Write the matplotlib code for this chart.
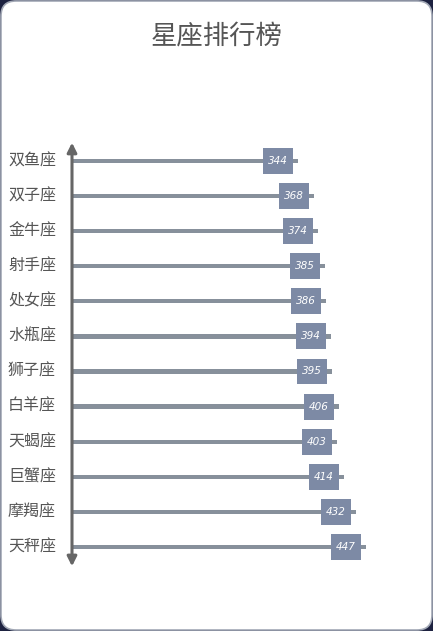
import matplotlib
matplotlib.use("Agg")
import matplotlib.pyplot as plt
from matplotlib.patches import FancyBboxPatch

plt.rcParams["font.family"] = ["Noto Sans CJK SC", "DejaVu Sans"]

# data, top to bottom
SIGNS = ["双鱼座", "双子座", "金牛座", "射手座", "处女座", "水瓶座",
         "狮子座", "白羊座", "天蝎座", "巨蟹座", "摩羯座", "天秤座"]
VALUES = [344, 368, 374, 385, 386, 394, 395, 406, 403, 414, 432, 447]
TITLE = "星座排行榜"

LINE_COLOR = "#87909b"
BOX_COLOR = "#7d8aa5"
AXIS_COLOR = "#666666"
TEXT_COLOR = "#555555"

W, H = 433, 631
fig = plt.figure(figsize=(W / 100, H / 100), dpi=100)
fig.patch.set_facecolor("#1d2240")

# rounded white card with grey rim
card = FancyBboxPatch((0.01, 0.01), W / 100 - 0.02, H / 100 - 0.02,
                      boxstyle="round,pad=0,rounding_size=0.15",
                      transform=fig.dpi_scale_trans, facecolor="white",
                      edgecolor="#a3a9b6", linewidth=1.2, zorder=-10)
fig.patches.append(card)

fig.text(0.5, 1 - 36 / H, TITLE, ha="center", va="center",
         fontsize=19, color=TEXT_COLOR, fontweight="light")

# axes: left edge = value axis at x=72px, rows every ~35px
px_per_unit = 0.657
ax = fig.add_axes([72 / W, (H - 580) / H, 361 / W, 450 / H])
ax.set_zorder(5)
ax.set_xlim(0, 361 / px_per_unit)
ax.set_ylim(11.94, -0.88)
ax.axis("off")

ys = list(range(len(SIGNS)))
ax.barh(ys, VALUES, height=0.12, color=LINE_COLOR, zorder=2)

box_w = 30 / px_per_unit
box_off = 20 / px_per_unit
centers = [v - box_off for v in VALUES]
ax.barh(ys, [box_w] * len(ys), left=[c - box_w / 2 for c in centers],
        height=0.74, color=BOX_COLOR, zorder=3)
for y, c, v in zip(ys, centers, VALUES):
    ax.text(c, y, str(v), ha="center", va="center", color="white",
            fontsize=7.5, style="italic", family="DejaVu Sans", zorder=4)

# sign names
for y, name in zip(ys, SIGNS):
    ax.text(-64 / px_per_unit, y, name, ha="left", va="center",
            fontsize=11.5, color=TEXT_COLOR, fontweight="light",
            clip_on=False)

# double-headed vertical axis
ax.annotate("", xy=(0, -0.52), xytext=(0, 11.55),
            arrowprops=dict(arrowstyle="<|-|>", color=AXIS_COLOR, lw=2.2,
                            mutation_scale=14, shrinkA=0, shrinkB=0),
            zorder=5)

fig.savefig("out.png", dpi=100, facecolor=fig.get_facecolor())
